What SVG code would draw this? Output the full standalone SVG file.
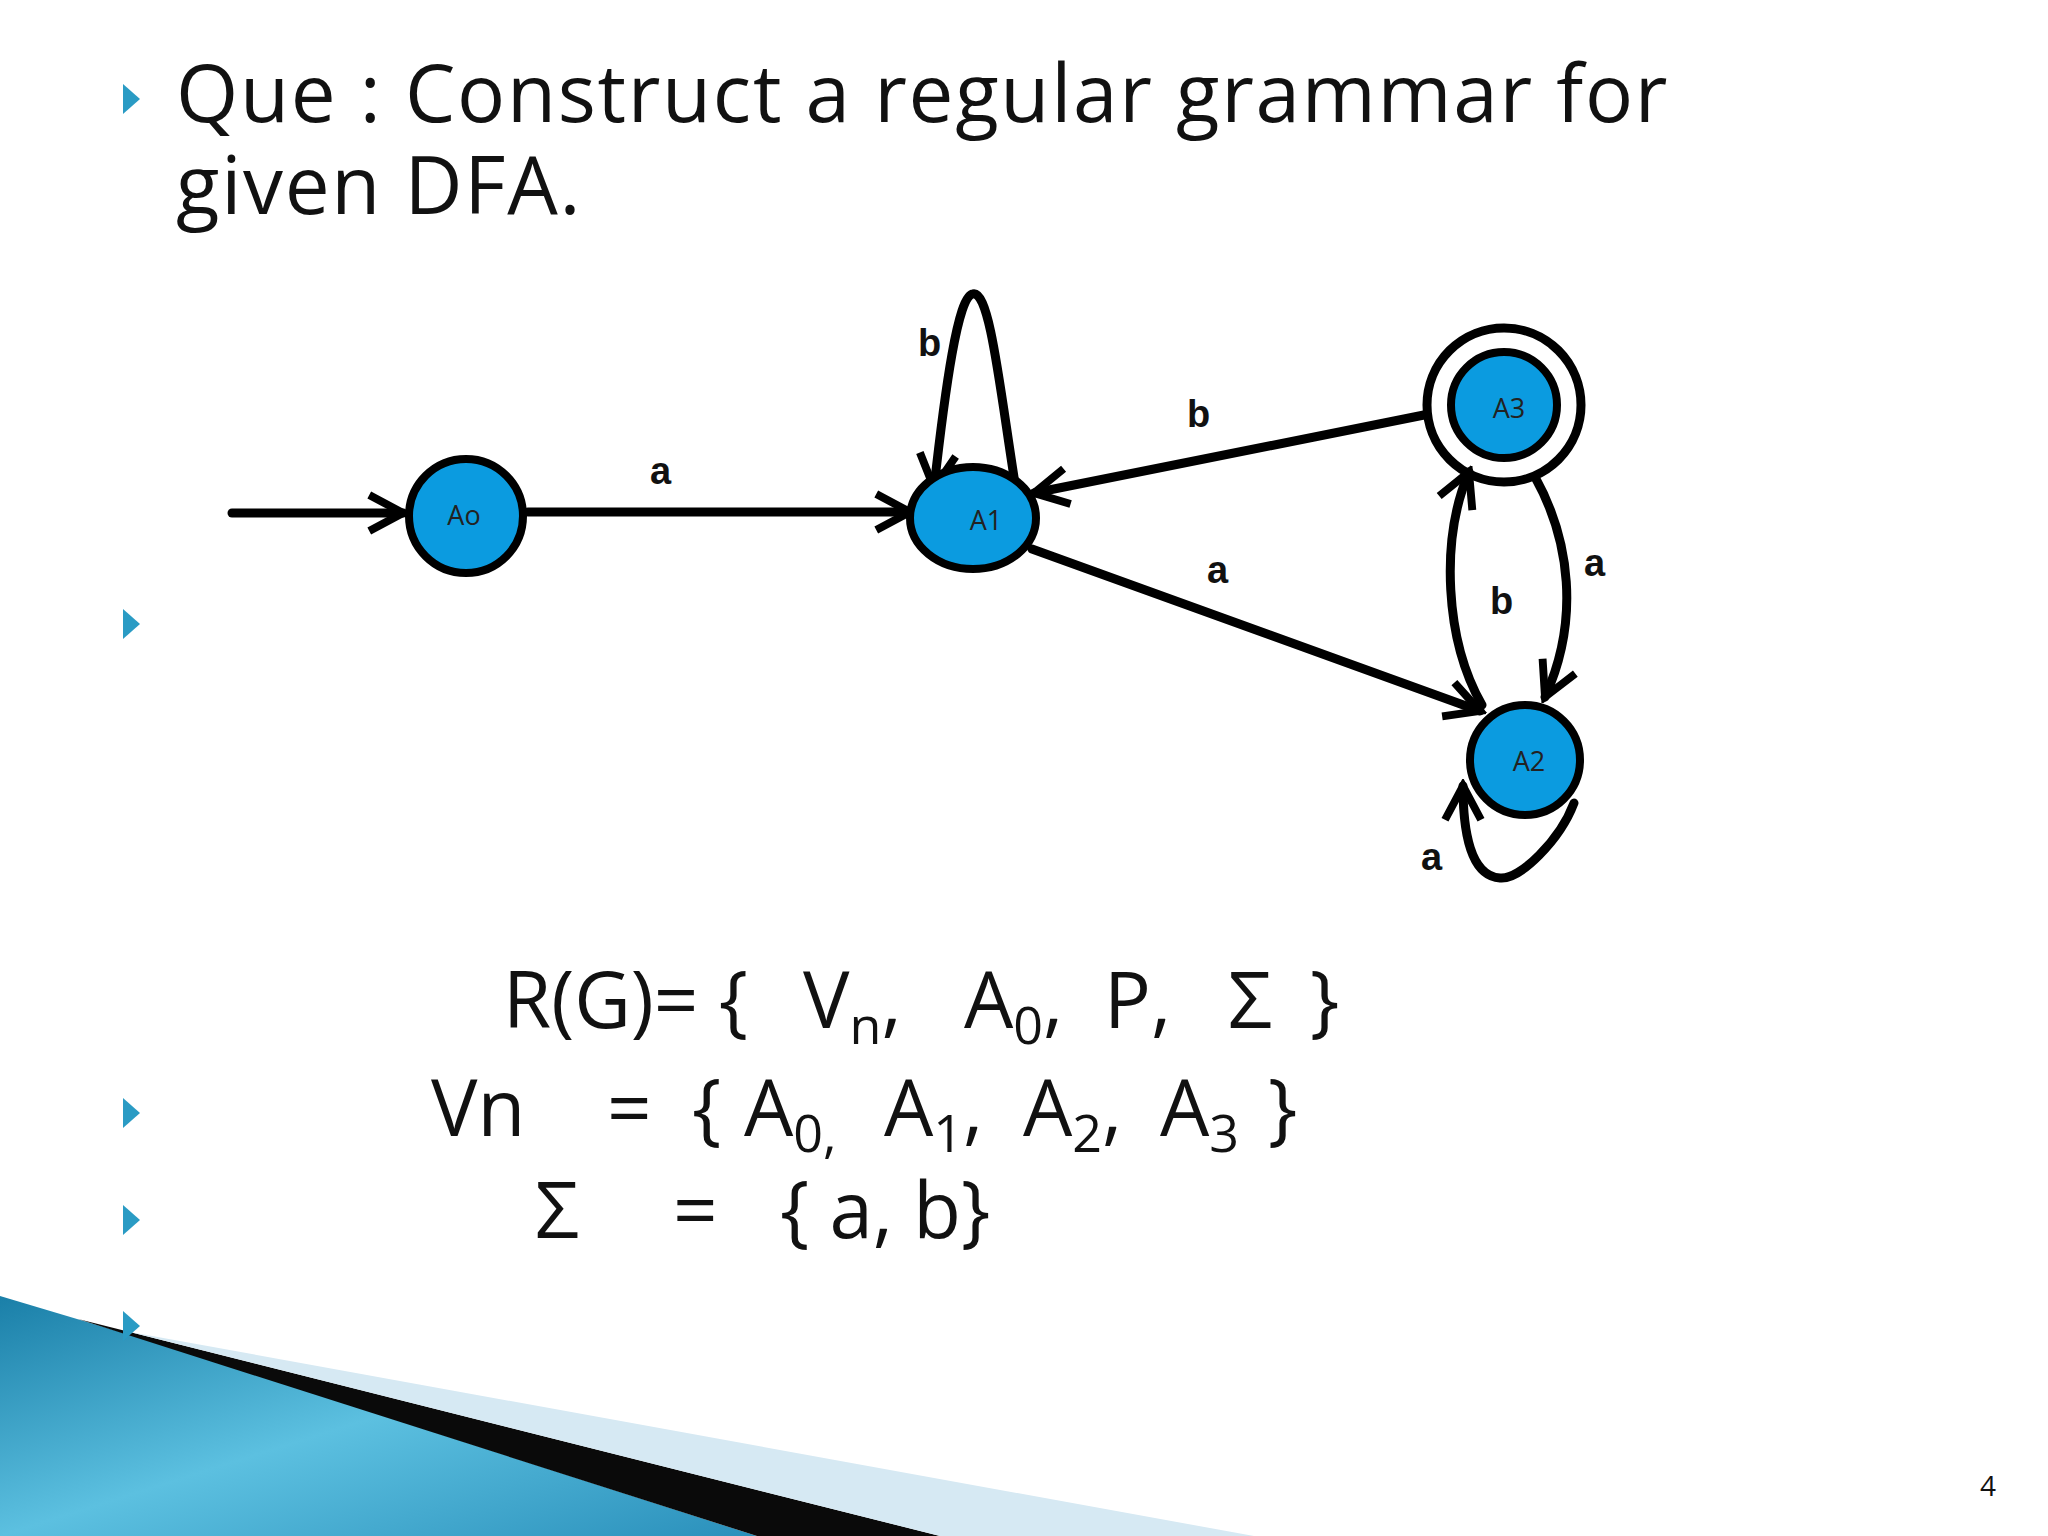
<svg xmlns="http://www.w3.org/2000/svg" width="2048" height="1536" viewBox="0 0 2048 1536">
<defs>
<style>
.t{font-family:"Open Sans","DejaVu Sans",sans-serif;fill:#111}
.e{stroke:#000;stroke-width:9;fill:none;stroke-linecap:round}
.n{fill:#0b9be0;stroke:#000;stroke-width:8}
.nl{font-family:"Open Sans",sans-serif;font-size:27px;fill:#222;text-anchor:middle}
.el{font-family:"Liberation Sans",sans-serif;font-weight:bold;font-size:38px;fill:#111}
.bl{fill:#2a9bc4}
.s{font-size:52px}
</style>
<marker id="ar" viewBox="0 0 20 20" refX="17" refY="10" markerWidth="5" markerHeight="5" orient="auto" markerUnits="strokeWidth">
<path d="M2,2 L17,10 L2,18" fill="none" stroke="#000" stroke-width="3.5"/>
</marker>
<linearGradient id="g" x1="0" y1="0" x2="1" y2="1">
<stop offset="0" stop-color="#1a7fa8"/><stop offset="0.5" stop-color="#5cc0e0"/><stop offset="1" stop-color="#2a90bb"/>
</linearGradient>
</defs>
<rect width="2048" height="1536" fill="#fff"/>
<polygon points="0,1296 144,1339 757,1536 0,1536" fill="url(#g)"/>
<polygon points="78,1319 940,1536 757,1536" fill="#0a0a0a"/>
<polygon points="130,1332 1254,1536 940,1536" fill="#d6e9f3"/>
<g id="bullets">
<polygon class="bl" points="123,84 140,99 123,114"/>
<polygon class="bl" points="123,609 140,624 123,639"/>
<polygon class="bl" points="123,1098 140,1113 123,1128"/>
<polygon class="bl" points="123,1205 140,1220 123,1235"/>
<polygon class="bl" points="123,1311 140,1326 123,1341"/>
</g>
<text class="t" x="176" y="122" font-size="80" letter-spacing="1.7">Que : Construct a regular grammar for</text>
<text class="t" x="176" y="214" font-size="80" letter-spacing="1.7">given DFA.</text>
<g id="connectors">
<line class="e" x1="232" y1="513" x2="403" y2="513" marker-end="url(#ar)"/>
<line class="e" x1="528" y1="512" x2="910" y2="512" marker-end="url(#ar)"/>
<path class="e" d="M1016,490 C1000,390 990,290 973,294 C958,294 945,390 934,488" marker-end="url(#ar)"/>
<line class="e" x1="1424" y1="415" x2="1034" y2="493" marker-end="url(#ar)"/>
<line class="e" x1="1032" y1="549" x2="1480" y2="711" marker-end="url(#ar)"/>
<path class="e" d="M1482,705 C1445,640 1440,540 1469,472" marker-end="url(#ar)"/>
<path class="e" d="M1535,477 C1570,540 1580,620 1545,697" marker-end="url(#ar)"/>
<path class="e" d="M1574,803 C1560,840 1520,880 1500,878 C1470,876 1463,830 1463,786" marker-end="url(#ar)"/>
</g>
<text class="el" x="650" y="484">a</text>
<text class="el" x="918" y="356">b</text>
<text class="el" x="1187" y="427">b</text>
<text class="el" x="1207" y="583">a</text>
<text class="el" x="1490" y="614">b</text>
<text class="el" x="1584" y="576">a</text>
<text class="el" x="1421" y="870">a</text>
<g id="A0"><circle class="n" cx="466" cy="516" r="57"/><text class="nl" x="464" y="525">Ao</text></g>
<g id="A1"><ellipse class="n" cx="973" cy="518" rx="63" ry="51"/><text class="nl" x="986" y="530">A1</text></g>
<g id="A3"><circle cx="1504" cy="405" r="77" fill="none" stroke="#000" stroke-width="9"/><circle class="n" cx="1504" cy="405" r="53"/><text class="nl" x="1509" y="418">A3</text></g>
<g id="A2"><circle class="n" cx="1525" cy="760" r="55"/><text class="nl" x="1529" y="771">A2</text></g>
<g class="t" font-size="78">
<text x="503" y="1028">R(G)= {</text>
<text x="803" y="1028">V<tspan class="s" dy="16">n</tspan><tspan dy="-16">,</tspan></text>
<text x="964" y="1028">A<tspan class="s" dy="16">0</tspan><tspan dy="-16">,</tspan></text>
<text x="1104" y="1028">P,</text>
<text x="1228" y="1028">Σ</text>
<text x="1310" y="1028">}</text>
<text x="431" y="1136">Vn</text>
<text x="607" y="1136">=</text>
<text x="692" y="1136">{</text>
<text x="744" y="1136">A<tspan class="s" dy="16">0,</tspan></text>
<text x="884" y="1136">A<tspan class="s" dy="16">1</tspan><tspan dy="-16">,</tspan></text>
<text x="1023" y="1136">A<tspan class="s" dy="16">2</tspan><tspan dy="-16">,</tspan></text>
<text x="1160" y="1136">A<tspan class="s" dy="16">3</tspan></text>
<text x="1268" y="1136">}</text>
<text x="535" y="1238">Σ</text>
<text x="673" y="1238">=</text>
<text x="780" y="1238">{ a, b}</text>
</g>
<text class="t" x="1980" y="1496" font-size="28">4</text>
</svg>
